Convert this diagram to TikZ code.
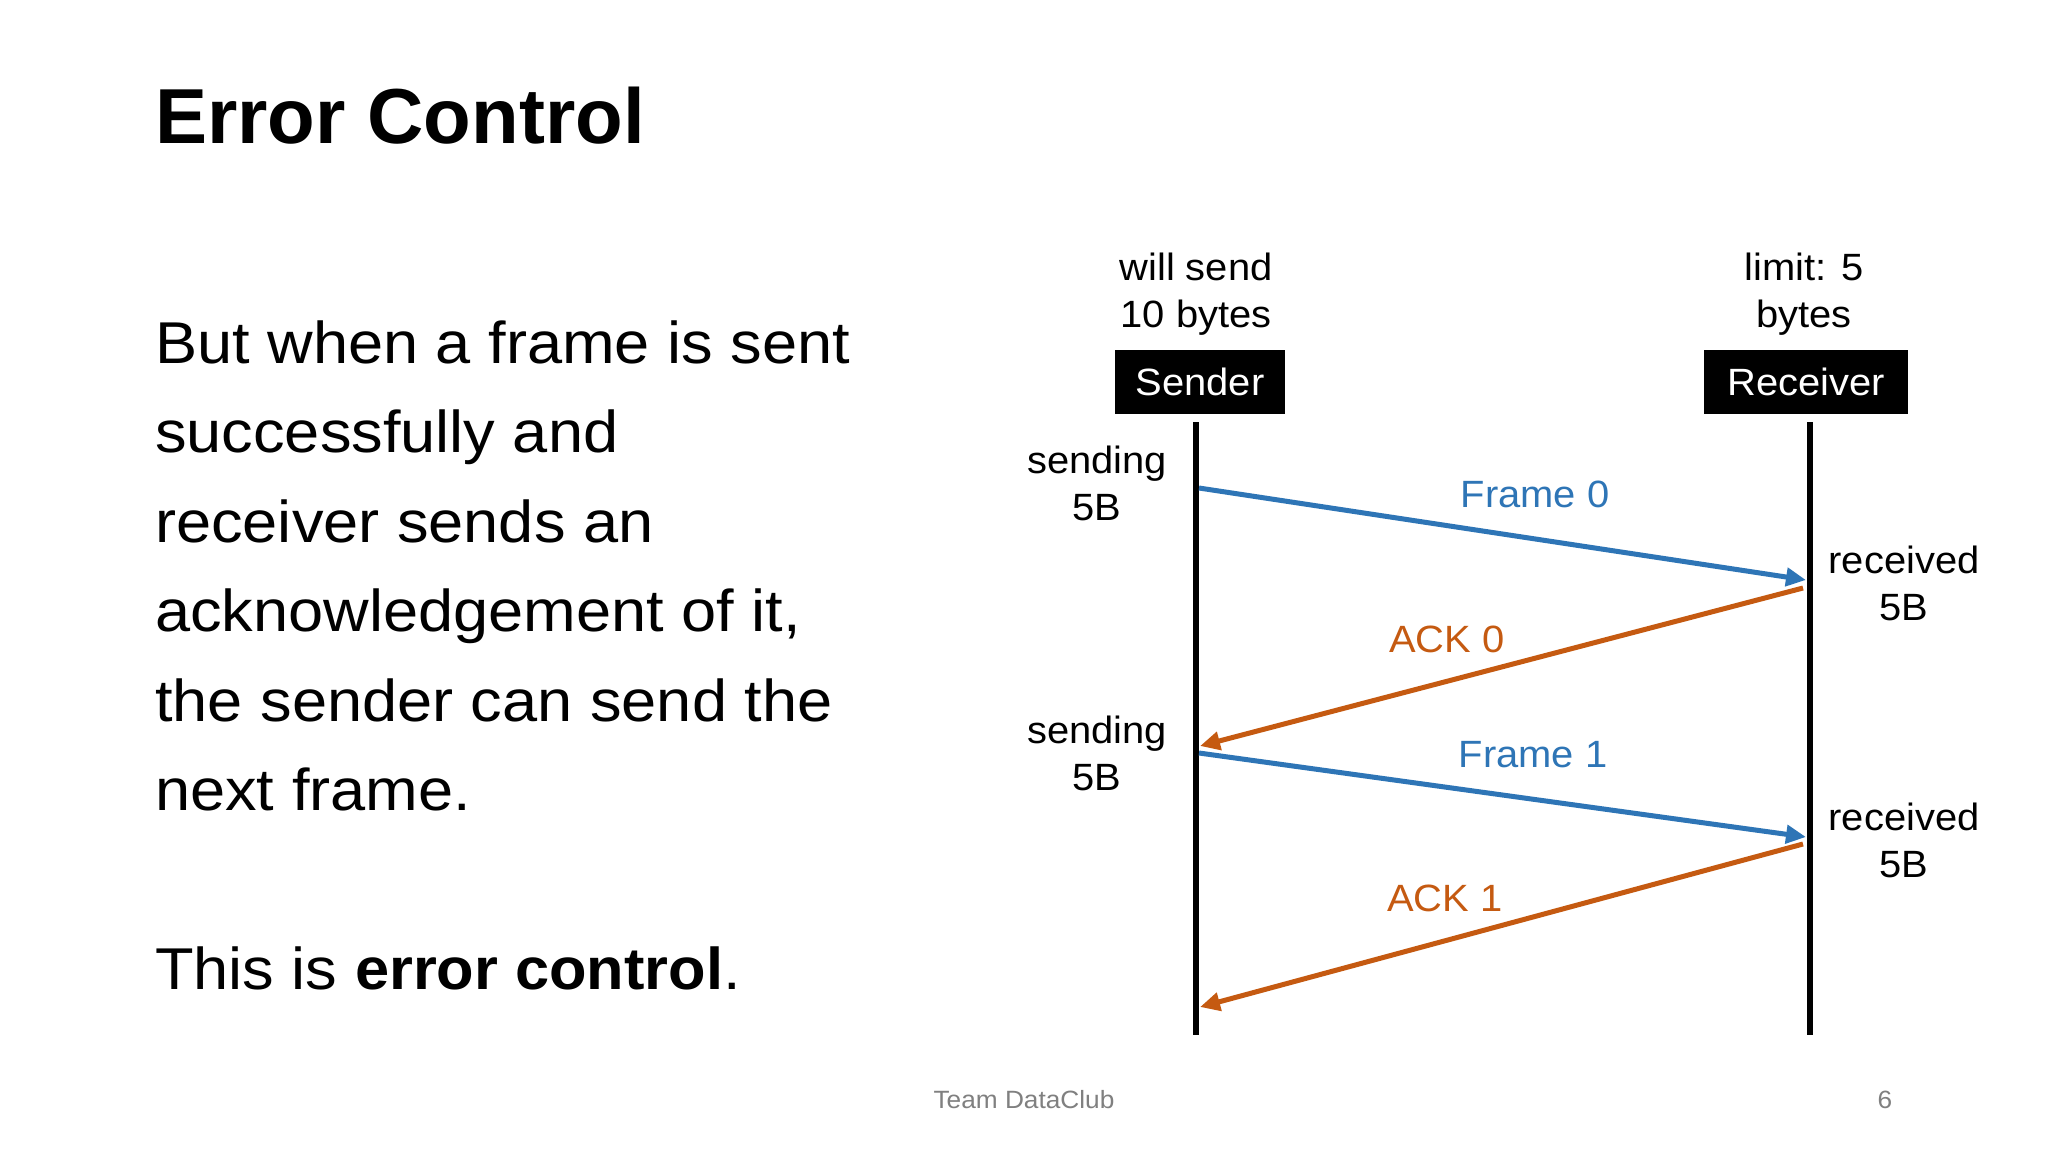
\documentclass[tikz,border=0pt]{standalone}
\usepackage{fontspec}
\setmainfont[FakeStretch=1.05]{Liberation Sans}
\newfontfamily\bodyfont[FakeStretch=1.07, BoldFeatures={FakeStretch=1.04}]{Liberation Sans}
\newfontfamily\titlefont{Liberation Sans}
\usetikzlibrary{arrows.meta}
\definecolor{fblue}{HTML}{2E75B6}
\definecolor{ackor}{HTML}{C55A11}
\definecolor{footgray}{HTML}{808080}
\tikzset{
  actor/.style={fill=black, text=white, inner sep=0pt, minimum height=64pt,
    font=\fontsize{38}{46}\selectfont},
  lbl/.style={inner sep=0pt, anchor=base, font=\fontsize{38}{47}\selectfont},
  life/.style={line width=5.5pt, draw=black},
  framemsg/.style={line width=5pt, draw=fblue, -{Triangle[length=20pt,width=18pt]}},
  ackmsg/.style={line width=5pt, draw=ackor, -{Triangle[length=20pt,width=18pt]}},
  foot/.style={inner sep=0pt, anchor=base, text=footgray, font=\fontsize{25}{30}\selectfont}
}
\begin{document}
\begin{tikzpicture}[x=1pt,y=-1pt]
\useasboundingbox (0,0) rectangle (2048,1152);
\fill[white] (0,0) rectangle (2048,1152);

% title
\node[inner sep=0pt, anchor=base west, font=\titlefont\bfseries\fontsize{78}{90}\selectfont] (title) at (155,143) {Error Control};

% body text
\node[inner sep=0pt, anchor=base west, font=\bodyfont\fontsize{59}{89.5}\selectfont] (body) at (155,363)
  {\begin{tabular}[t]{@{}l@{}}But when a frame is sent\\successfully and\\receiver sends an\\acknowledgement of it,\\the sender can send the\\next frame.\end{tabular}};
\node[inner sep=0pt, anchor=base west, font=\bodyfont\fontsize{59}{89.5}\selectfont] (concl) at (155,989)
  {This is \textbf{error control}.};

% actors
\node[actor, minimum width=170pt] (snd) at (1200,382) {Sender};
\node[actor, minimum width=204pt] (rcv) at (1806,382) {Receiver};

\node[lbl] (sndnote) at (1196,280) {\begin{tabular}[t]{@{}c@{}}will send\\10 bytes\end{tabular}};
\node[lbl] (rcvnote) at (1804,280) {\begin{tabular}[t]{@{}c@{}}limit: 5\\bytes\end{tabular}};

% lifelines
\coordinate (sTop) at (1196,422);
\coordinate (sBot) at (1196,1035);
\coordinate (rTop) at (1810,422);
\coordinate (rBot) at (1810,1035);
\draw[life] (sTop) -- (sBot);
\draw[life] (rTop) -- (rBot);

% message end points
\coordinate (f0s) at (1199,488);
\coordinate (f0e) at (1806,580);
\coordinate (a0s) at (1803,588);
\coordinate (a0e) at (1200,746);
\coordinate (f1s) at (1199,753);
\coordinate (f1e) at (1806,837);
\coordinate (a1s) at (1803,844);
\coordinate (a1e) at (1200,1007);

\draw[framemsg] (f0s) -- (f0e);
\draw[ackmsg] (a0s) -- (a0e);
\draw[framemsg] (f1s) -- (f1e);
\draw[ackmsg] (a1s) -- (a1e);

% message labels
\node[lbl, text=fblue] (f0l) at (1535,507) {Frame 0};
\node[lbl, text=ackor] (a0l) at (1447,652) {ACK 0};
\node[lbl, text=fblue] (f1l) at (1533,767) {Frame 1};
\node[lbl, text=ackor] (a1l) at (1445,911) {ACK 1};

% side notes
\node[lbl] (send0) at (1097,473) {\begin{tabular}[t]{@{}c@{}}sending\\5B\end{tabular}};
\node[lbl] (send1) at (1097,743) {\begin{tabular}[t]{@{}c@{}}sending\\5B\end{tabular}};
\node[lbl] (recv0) at (1904,573) {\begin{tabular}[t]{@{}c@{}}received\\5B\end{tabular}};
\node[lbl] (recv1) at (1904,830) {\begin{tabular}[t]{@{}c@{}}received\\5B\end{tabular}};

% footer
\node[foot] (team) at (1024,1108) {Team DataClub};
\node[foot] (page) at (1885,1108) {6};
\end{tikzpicture}
\end{document}
